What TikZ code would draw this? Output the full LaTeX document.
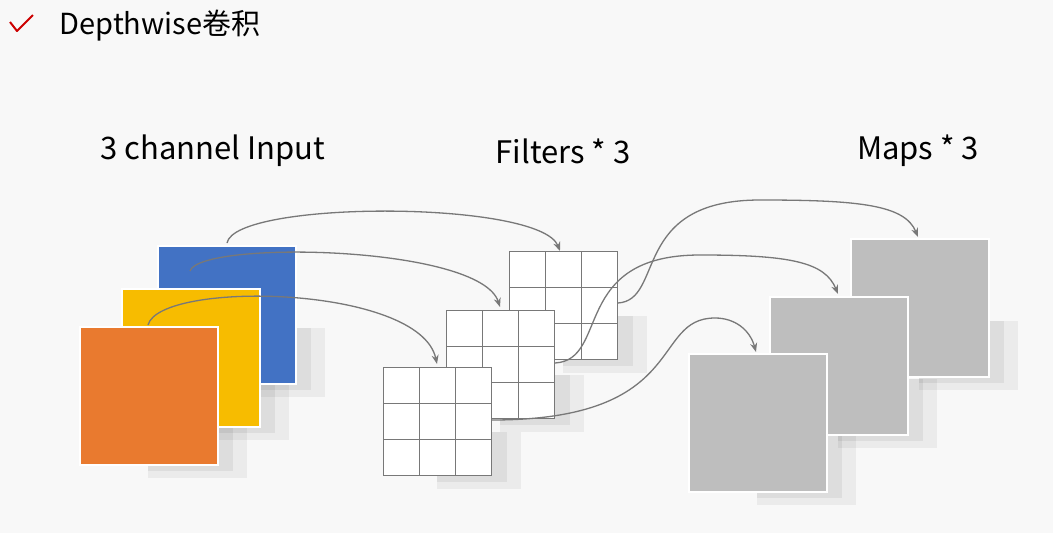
\documentclass[tikz,border=0pt]{standalone}
\usepackage{fontspec}
\setmainfont{Noto Sans CJK SC}
\usetikzlibrary{arrows.meta,calc}
\definecolor{bg}{RGB}{248,248,248}
\definecolor{cblue}{RGB}{66,114,196}
\definecolor{cyel}{RGB}{247,188,0}
\definecolor{cora}{RGB}{233,122,47}
\definecolor{cgray}{RGB}{190,190,190}
\definecolor{cline}{RGB}{120,120,120}
\begin{document}
\begin{tikzpicture}[x=1pt,y=-1pt,
  sq/.style={draw=white,line width=1.5pt,minimum size=138pt,inner sep=0pt,anchor=north west},
  grid/.style={draw=cline,fill=white,line width=1pt,minimum size=108pt,inner sep=0pt,anchor=north west},
  conn/.style={draw=cline,line width=1.3pt,-{Stealth[length=9pt,width=7pt]}},
  lab/.style={font=\fontsize{31}{33}\selectfont}]
\fill[bg] (0,0) rectangle (1053,533);
\useasboundingbox (0,0) rectangle (1053,533);
% title
\draw[red!80!black,line width=2pt,line join=round] (10,22) -- (17,31) -- (33,15);
\node[anchor=west,font=\fontsize{29}{31}\selectfont] (title) at (56,26) {Depthwise卷积};
\node[lab] (l1) at (213,151) {3 channel Input};
\node[lab] (l2) at (563,151) {Filters * 3};
\node[lab] (l3) at (918,151) {Maps * 3};
% shadows
\foreach \x/\y/\s in {157/245/138,121/288/138,79/326/138,509/251/108,446/310/108,383/367/108,850/238/138,769/296/138,688/353/138}{
  \fill[black,opacity=0.05] (\x+\s*0.5,\y+\s*0.6) rectangle (\x+\s+30,\y+\s+14);
  \fill[black,opacity=0.06] (\x+\s*0.5,\y+\s*0.6) rectangle (\x+\s+16,\y+\s+7);
}
% input
\node[sq,fill=cblue] (ib) at (157,245) {};
\node[sq,fill=cyel] (iy) at (121,288) {};
\node[sq,fill=cora] (io) at (79,326) {};
% filters
\foreach \n/\x/\y in {fb/509/251,fm/446/310,ff/383/367}{
  \node[grid] (\n) at (\x,\y) {};
  \draw[cline,line width=1pt] ($(\n.north west)!1/3!(\n.north east)$) -- ($(\n.south west)!1/3!(\n.south east)$)
    ($(\n.north west)!2/3!(\n.north east)$) -- ($(\n.south west)!2/3!(\n.south east)$)
    ($(\n.north west)!1/3!(\n.south west)$) -- ($(\n.north east)!1/3!(\n.south east)$)
    ($(\n.north west)!2/3!(\n.south west)$) -- ($(\n.north east)!2/3!(\n.south east)$);
}
% maps
\node[sq,fill=cgray] (mb) at (850,238) {};
\node[sq,fill=cgray] (mm) at (769,296) {};
\node[sq,fill=cgray] (mf) at (688,353) {};
% connectors
\coordinate (s1) at (227,243); \coordinate (t1) at (560,251);
\coordinate (s2) at (190,271); \coordinate (t2) at (500,307);
\coordinate (s3) at (148,325); \coordinate (t3) at (437,364);
\draw[conn] (s1) .. controls (235,200) and (540,200) .. (t1);
\draw[conn] (s2) .. controls (200,240) and (480,245) .. (t2);
\draw[conn] (s3) .. controls (160,280) and (420,285) .. (t3);
\coordinate (u1) at (618,303); \coordinate (v1) at (918,237);
\coordinate (u2) at (555,363); \coordinate (v2) at (838,294);
\coordinate (u3) at (492,420); \coordinate (v3) at (756,352);
\draw[conn] (u1) .. controls (665,300) and (630,200) .. (760,200) .. controls (860,200) and (905,205) .. (v1);
\draw[conn] (u2) .. controls (610,360) and (570,255) .. (700,255) .. controls (790,255) and (825,262) .. (v2);
\draw[conn] (u3) .. controls (690,420) and (650,318) .. (715,318) .. controls (735,318) and (750,330) .. (v3);
\end{tikzpicture}
\end{document}
